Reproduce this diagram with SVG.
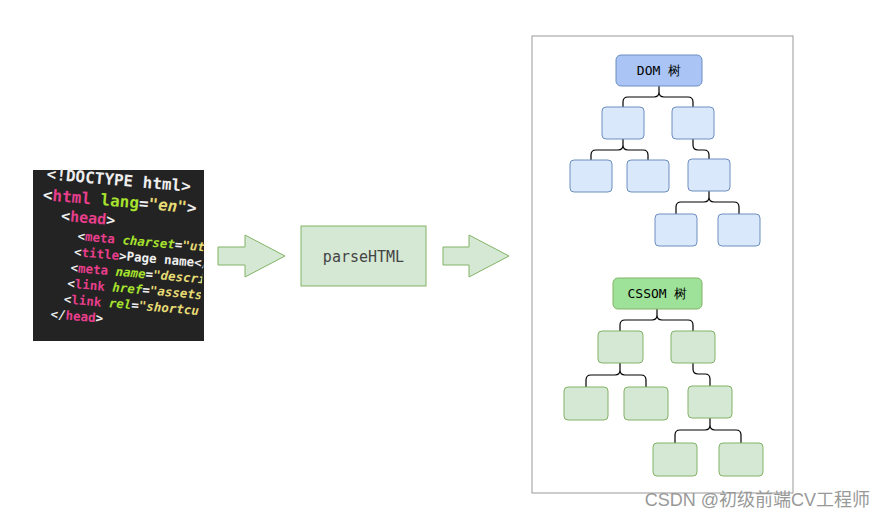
<svg xmlns="http://www.w3.org/2000/svg" width="886" height="519" viewBox="0 0 886 519">
<style>
.dn{fill:#dae8fc;stroke:#6c8ebf;stroke-width:1}
.cn{fill:#d5e8d4;stroke:#82b366;stroke-width:1}
.ln{fill:none;stroke:#000;stroke-width:1.2}
.arr{fill:#d5e8d4;stroke:#82b366;stroke-width:1}
.t{font-family:"DejaVu Sans Mono",monospace;fill:#000}
.c{font-family:"DejaVu Sans Mono",monospace;font-weight:bold}
</style>
<rect width="886" height="519" fill="#fff"/>
<g id="code">
<clipPath id="cp"><rect x="33" y="170" width="171" height="171"/></clipPath>
<rect x="33" y="170" width="171" height="171" fill="#232323"/>
<g clip-path="url(#cp)" class="c" transform="rotate(5 120 255)">
<text x="40" y="186" font-size="16"><tspan fill="#eee">&lt;!DOCTYPE html&gt;</tspan></text>
<text x="38" y="207" font-size="16"><tspan fill="#eee">&lt;</tspan><tspan fill="#e83e8c">html</tspan> <tspan fill="#a6e22e">lang</tspan><tspan fill="#eee">=</tspan><tspan fill="#e6db74" font-style="italic">"en"</tspan><tspan fill="#eee">&gt;</tspan></text>
<text x="58" y="226" font-size="15"><tspan fill="#eee">&lt;</tspan><tspan fill="#e83e8c">head</tspan><tspan fill="#eee">&gt;</tspan></text>
<text x="76" y="244" font-size="12.5"><tspan fill="#eee">&lt;</tspan><tspan fill="#e83e8c">meta</tspan> <tspan fill="#a6e22e" font-style="italic">charset</tspan><tspan fill="#eee">=</tspan><tspan fill="#e6db74" font-style="italic">"utf-8"</tspan></text>
<text x="74" y="260" font-size="12.5"><tspan fill="#eee">&lt;</tspan><tspan fill="#e83e8c">title</tspan><tspan fill="#eee">&gt;Page name&lt;/</tspan></text>
<text x="72" y="276" font-size="12.5"><tspan fill="#eee">&lt;</tspan><tspan fill="#e83e8c">meta</tspan> <tspan fill="#a6e22e" font-style="italic">name</tspan><tspan fill="#eee">=</tspan><tspan fill="#e6db74" font-style="italic">"description</tspan></text>
<text x="70" y="292" font-size="12.5"><tspan fill="#eee">&lt;</tspan><tspan fill="#e83e8c">link</tspan> <tspan fill="#a6e22e" font-style="italic">href</tspan><tspan fill="#eee">=</tspan><tspan fill="#e6db74" font-style="italic">"assets/</tspan></text>
<text x="68" y="308" font-size="12.5"><tspan fill="#eee">&lt;</tspan><tspan fill="#e83e8c">link</tspan> <tspan fill="#a6e22e" font-style="italic">rel</tspan><tspan fill="#eee">=</tspan><tspan fill="#e6db74" font-style="italic">"shortcut</tspan></text>
<text x="56" y="324" font-size="12.5"><tspan fill="#eee">&lt;/</tspan><tspan fill="#e83e8c">head</tspan><tspan fill="#eee">&gt;</tspan></text>
</g>
</g>
<g id="arrow1"><path class="arr" d="M218,247 H245 V235 L285,256 L245,277 V265 H218 Z"/></g>
<g id="parse"><rect x="301" y="226" width="125" height="60" fill="#d5e8d4" stroke="#82b366"/><text x="363.5" y="262" text-anchor="middle" class="t" font-size="15" fill="#444" style="fill:#444">parseHTML</text></g>
<g id="arrow2"><path class="arr" d="M443,247 H469 V235 L509,256 L469,277 V265 H443 Z"/></g>
<g id="frame"><rect x="532" y="36" width="261" height="457" fill="none" stroke="#999"/></g>
<g id="connectors">
<path class="ln" d="M659,86 V92 Q659,97 654,97 H628 Q623,97 623,102 V107 M659,92 Q659,97 664,97 H688 Q693,97 693,102 V107"/>
<path class="ln" d="M623,139 V145 Q623,150 618,150 H596 Q591,150 591,155 V160 M623,145 Q623,150 628,150 H643 Q648,150 648,155 V160"/>
<path class="ln" d="M693,139 V145 Q693,150 698,150 H704 Q709,150 709,155 V159"/>
<path class="ln" d="M709,191 V197 Q709,202 704,202 H681 Q676,202 676,207 V214 M709,197 Q709,202 714,202 H734 Q739,202 739,207 V214"/>
<path class="ln" d="M657,309 V315 Q657,320 652,320 H625 Q620,320 620,325 V331 M657,315 Q657,320 662,320 H688 Q693,320 693,325 V331"/>
<path class="ln" d="M620,363 V370 Q620,375 615,375 H591 Q586,375 586,380 V387 M620,370 Q620,375 625,375 H641 Q646,375 646,380 V387"/>
<path class="ln" d="M693,363 V369 Q693,374 698,374 H705 Q710,374 710,379 V386"/>
<path class="ln" d="M710,418 V425 Q710,430 705,430 H680 Q675,430 675,435 V443 M710,425 Q710,430 715,430 H736 Q741,430 741,435 V443"/>
</g>
<g id="dom-root"><rect x="616" y="55" width="86" height="31" rx="5" fill="#a9c4f5" stroke="#6c8ebf"/><text x="659" y="75" text-anchor="middle" class="t" font-size="13">DOM 树</text></g>
<g id="dom-a"><rect class="dn" x="602" y="107" width="42" height="32" rx="4"/></g>
<g id="dom-b"><rect class="dn" x="672" y="107" width="42" height="32" rx="4"/></g>
<g id="dom-c"><rect class="dn" x="570" y="160" width="42" height="32" rx="4"/></g>
<g id="dom-d"><rect class="dn" x="627" y="160" width="42" height="32" rx="4"/></g>
<g id="dom-e"><rect class="dn" x="688" y="159" width="42" height="32" rx="4"/></g>
<g id="dom-f"><rect class="dn" x="655" y="214" width="42" height="32" rx="4"/></g>
<g id="dom-g"><rect class="dn" x="718" y="214" width="42" height="32" rx="4"/></g>
<g id="css-root"><rect x="613" y="278" width="89" height="31" rx="5" fill="#9ee29a" stroke="#82b366"/><text x="657.5" y="298" text-anchor="middle" class="t" font-size="13">CSSOM 树</text></g>
<g id="css-a"><rect class="cn" x="598" y="331" width="45" height="32" rx="4"/></g>
<g id="css-b"><rect class="cn" x="671" y="331" width="44" height="32" rx="4"/></g>
<g id="css-c"><rect class="cn" x="564" y="387" width="44" height="33" rx="4"/></g>
<g id="css-d"><rect class="cn" x="624" y="387" width="44" height="33" rx="4"/></g>
<g id="css-e"><rect class="cn" x="688" y="386" width="44" height="32" rx="4"/></g>
<g id="css-f"><rect class="cn" x="653" y="443" width="44" height="33" rx="4"/></g>
<g id="css-g"><rect class="cn" x="719" y="443" width="44" height="33" rx="4"/></g>
<text x="870" y="506" text-anchor="end" font-family="'Liberation Sans','Noto Sans CJK SC',sans-serif" font-size="18" fill="#999">CSDN @初级前端CV工程师</text>
</svg>
